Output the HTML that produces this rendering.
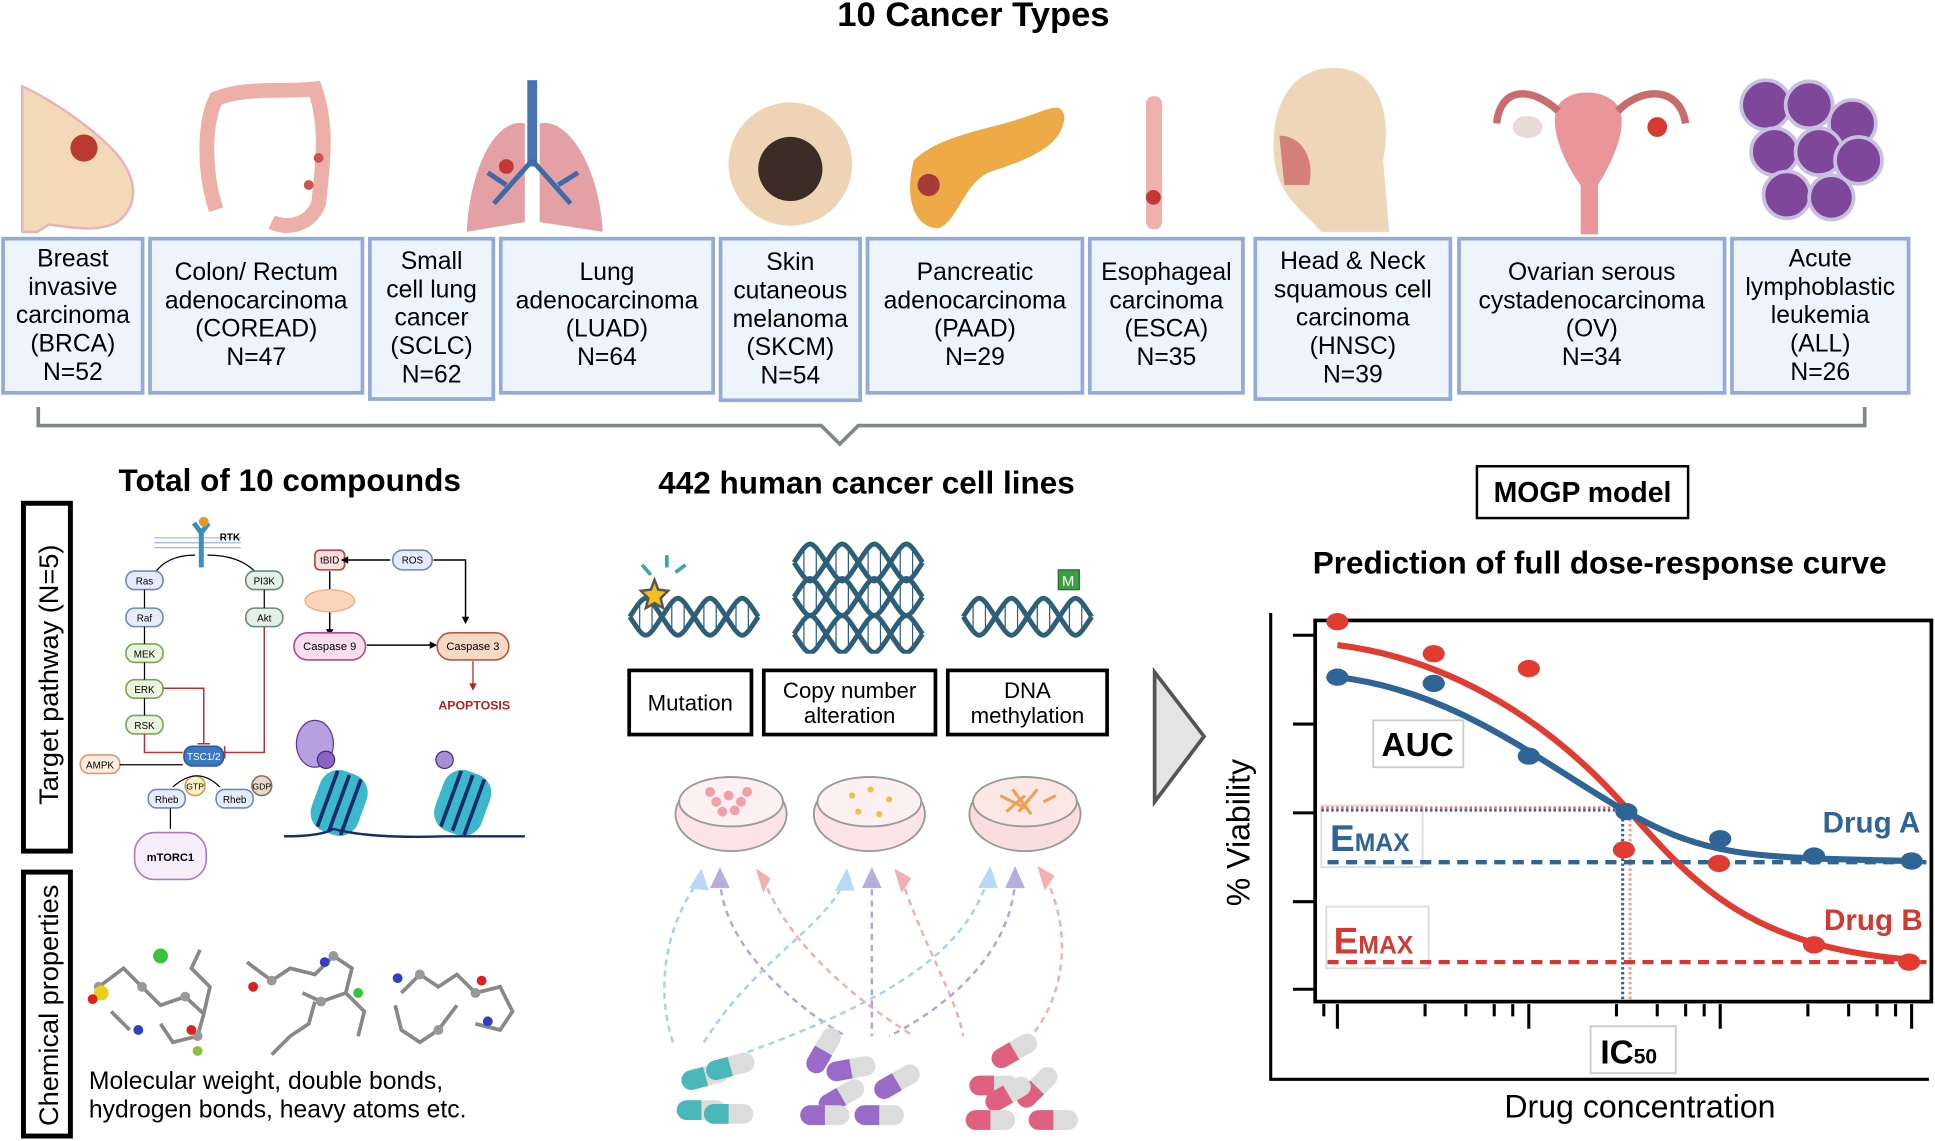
<!DOCTYPE html>
<html><head><meta charset="utf-8">
<style>
html,body{margin:0;padding:0;background:#fff;}
body{width:1935px;height:1141px;overflow:hidden;position:relative;}
#w{position:absolute;left:0;top:0;width:1567px;height:925px;transform-origin:0 0;transform:scale(1.2349,1.2335);font-family:"Liberation Sans",Arial,sans-serif;color:#000;}
.a{position:absolute;}
.bx{position:absolute;top:192px;height:128px;background:#eef4fc;border:3px solid #93abd6;box-sizing:border-box;display:flex;align-items:center;justify-content:center;text-align:center;font-size:20px;line-height:23px;}
.h{position:absolute;font-weight:bold;font-size:25.5px;white-space:nowrap;}
.vb{position:absolute;border:4px solid #000;box-sizing:border-box;}
.vt{position:absolute;transform:rotate(-90deg);transform-origin:center;white-space:nowrap;font-size:22px;}
.lb{position:absolute;border:3px solid #000;box-sizing:border-box;display:flex;align-items:center;justify-content:center;text-align:center;font-size:18px;line-height:20px;}
</style></head><body><div id="w">
<div class="h" style="left:678px;top:-4px;font-size:28px;">10 Cancer Types</div>

<svg class="a" style="left:0;top:0" width="1567" height="925">
<path d="M18,70 C40,80 70,100 90,120 C110,140 115,165 95,180 C80,188 60,185 40,182 L30,188 L18,188 Z" fill="#f3d9b8" stroke="#e7b3b8" stroke-width="2"/>
<circle cx="68" cy="120" r="11" fill="#b83a30"/>
<path d="M175,170 C165,140 165,100 175,80 C200,70 230,75 255,72 C265,100 262,130 258,165 C250,185 230,185 220,180" fill="none" stroke="#ecb0a8" stroke-width="12"/>
<circle cx="258" cy="128" r="4" fill="#c9564a"/><circle cx="250" cy="150" r="4" fill="#c9564a"/>
<path d="M425,100 C400,95 380,140 378,188 L425,180 Z" fill="#e3a0a5"/>
<path d="M437,100 C462,95 486,140 488,188 L437,180 Z" fill="#e3a0a5"/>
<rect x="427" y="65" width="8" height="70" fill="#4a74b0"/>
<path d="M431,130 L400,165 M431,130 L462,165 M410,150 L395,140 M452,150 L468,140" stroke="#3f6aa8" stroke-width="4" fill="none"/>
<circle cx="410" cy="135" r="6" fill="#c23a35"/>
<circle cx="640" cy="133" r="50" fill="#efd3b5"/>
<circle cx="640" cy="137" r="26" fill="#3c2c26"/>
<path d="M740,130 C760,110 800,105 830,95 C850,88 860,82 862,95 C860,120 830,130 800,140 C780,150 775,180 760,185 C740,185 732,160 740,130 Z" fill="#efaa48"/>
<circle cx="752" cy="150" r="9" fill="#a83a3a"/>
<rect x="928" y="78" width="13" height="108" rx="6" fill="#f0b0ad"/>
<circle cx="934" cy="160" r="6" fill="#c03a35"/>
<path d="M1080,55 C1040,55 1028,95 1032,130 C1035,160 1060,175 1070,188 L1125,188 L1120,130 C1128,90 1115,55 1080,55 Z" fill="#eed6b9"/>
<path d="M1036,110 C1055,110 1065,130 1060,150 L1040,150 Z" fill="#d4817a"/>
<path d="M1260,90 C1265,70 1305,70 1312,90 C1318,110 1300,140 1294,150 L1294,190 L1280,190 L1280,150 C1272,140 1255,110 1260,90 Z" fill="#e9959a"/>
<path d="M1262,90 C1240,70 1215,70 1212,100 M1310,90 C1330,70 1360,70 1365,100" stroke="#c96c6e" stroke-width="6" fill="none"/>
<ellipse cx="1237" cy="103" rx="12" ry="9" fill="#e8dcd8"/>
<circle cx="1342" cy="103" r="8" fill="#d83a30"/>
<g fill="#7e4799" stroke="#c8c0e0" stroke-width="3">
<circle cx="1430" cy="85" r="20"/><circle cx="1465" cy="85" r="19"/><circle cx="1500" cy="100" r="19"/>
<circle cx="1437" cy="123" r="19"/><circle cx="1473" cy="123" r="19"/><circle cx="1505" cy="130" r="19"/>
<circle cx="1447" cy="158" r="19"/><circle cx="1483" cy="160" r="18"/>
</g>
<path d="M31,330 L31,345 L665,345 L680,360 L695,345 L1510,345 L1510,330" fill="none" stroke="#7f8888" stroke-width="3"/>
</svg>

<div class="bx" style="left:1px;width:116px;">Breast<br>invasive<br>carcinoma<br>(BRCA)<br>N=52</div>
<div class="bx" style="left:120px;width:175px;">Colon/ Rectum<br>adenocarcinoma<br>(COREAD)<br>N=47</div>
<div class="bx" style="left:298px;width:103px;height:133px;">Small<br>cell lung<br>cancer<br>(SCLC)<br>N=62</div>
<div class="bx" style="left:404px;width:175px;">Lung<br>adenocarcinoma<br>(LUAD)<br>N=64</div>
<div class="bx" style="left:582px;width:116px;height:134px;">Skin<br>cutaneous<br>melanoma<br>(SKCM)<br>N=54</div>
<div class="bx" style="left:701px;width:177px;">Pancreatic<br>adenocarcinoma<br>(PAAD)<br>N=29</div>
<div class="bx" style="left:881px;width:127px;">Esophageal<br>carcinoma<br>(ESCA)<br>N=35</div>
<div class="bx" style="left:1015px;width:161px;height:133px;">Head &amp; Neck<br>squamous cell<br>carcinoma<br>(HNSC)<br>N=39</div>
<div class="bx" style="left:1180px;width:218px;">Ovarian serous<br>cystadenocarcinoma<br>(OV)<br>N=34</div>
<div class="bx" style="left:1401px;width:146px;">Acute<br>lymphoblastic<br>leukemia<br>(ALL)<br>N=26</div>

<div class="h" style="left:96px;top:376px;">Total of 10 compounds</div>
<div class="h" style="left:533px;top:378px;">442 human cancer cell lines</div>

<div class="vb" style="left:17px;top:406px;width:42px;height:286px;"></div>
<div class="vt" style="left:-70px;top:534px;width:220px;text-align:center;">Target pathway (N=5)</div>
<div class="vb" style="left:17px;top:705px;width:42px;height:218px;"></div>
<div class="vt" style="left:-70px;top:802px;width:220px;text-align:center;">Chemical properties</div>

<svg class="a" style="left:60px;top:410px" width="380" height="320" font-family="Liberation Sans,Arial,sans-serif" font-size="8">
<g stroke="#9fb4d8" stroke-width="1"><line x1="65" y1="26" x2="135" y2="26"/><line x1="65" y1="30" x2="135" y2="30"/><line x1="65" y1="34" x2="135" y2="34"/></g>
<path d="M97,14 L103,22 L109,14 M103,22 L103,50" stroke="#3a8fc0" stroke-width="4" fill="none"/>
<circle cx="105" cy="13" r="4" fill="#e09a2a"/>
<text x="118" y="28" font-size="8" font-weight="bold">RTK</text>
<path d="M98,40 Q75,40 65,55 M108,40 Q135,40 148,55" stroke="#000" fill="none"/>
<g stroke-width="1.3">
<rect x="42" y="53" width="30" height="15" rx="7" fill="#e6ecfa" stroke="#6e88c4"/><text x="57" y="64" text-anchor="middle">Ras</text>
<rect x="42" y="83" width="30" height="15" rx="7" fill="#e6ecfa" stroke="#6e88c4"/><text x="57" y="94" text-anchor="middle">Raf</text>
<rect x="42" y="112" width="30" height="15" rx="7" fill="#eaf4de" stroke="#7aa45a"/><text x="57" y="123" text-anchor="middle">MEK</text>
<rect x="42" y="141" width="30" height="15" rx="7" fill="#eaf4de" stroke="#7aa45a"/><text x="57" y="152" text-anchor="middle">ERK</text>
<rect x="42" y="170" width="30" height="15" rx="7" fill="#eaf4de" stroke="#7aa45a"/><text x="57" y="181" text-anchor="middle">RSK</text>
<rect x="139" y="53" width="30" height="15" rx="7" fill="#e4efe8" stroke="#6a8a7a"/><text x="154" y="64" text-anchor="middle">PI3K</text>
<rect x="139" y="83" width="30" height="15" rx="7" fill="#e4efe8" stroke="#6a8a7a"/><text x="154" y="94" text-anchor="middle">Akt</text>
<rect x="89" y="195" width="32" height="16" rx="7" fill="#3a78c0" stroke="#2a5a98"/><text x="105" y="206" text-anchor="middle" fill="#fff">TSC1/2</text>
<rect x="5" y="202" width="32" height="15" rx="7" fill="#fdeee0" stroke="#e09a6a"/><text x="21" y="213" text-anchor="middle">AMPK</text>
<rect x="60" y="230" width="30" height="15" rx="7" fill="#e6ecfa" stroke="#6e88c4"/><text x="75" y="241" text-anchor="middle">Rheb</text>
<rect x="115" y="230" width="30" height="15" rx="7" fill="#e6ecfa" stroke="#6e88c4"/><text x="130" y="241" text-anchor="middle">Rheb</text>
<circle cx="98" cy="227" r="8" fill="#fbf0c8" stroke="#c8a040"/><text x="98" y="230" text-anchor="middle" font-size="7">GTP</text>
<circle cx="152" cy="227" r="8" fill="#e8d8c8" stroke="#8a6a5a"/><text x="152" y="230" text-anchor="middle" font-size="7">GDP</text>
<rect x="49" y="265" width="58" height="38" rx="16" fill="#f6eefa" stroke="#a87ac0"/><text x="78" y="288" text-anchor="middle" font-weight="bold" font-size="9">mTORC1</text>
</g>
<g stroke="#000" fill="none" stroke-width="1"><path d="M57,68 V83 M57,98 V112 M57,127 V141 M57,156 V170 M154,68 V83 M78,245 V262 M37,210 H88"/>
<path d="M80,228 Q100,210 118,228"/></g>
<g stroke="#b83030" fill="none" stroke-width="1.2"><path d="M72,148 H105 V193 M100,193 H110 M57,185 V200 H88 M154,98 V200 H122 M122,195 V205"/></g>
<rect x="195" y="36" width="24" height="16" rx="4" fill="#fbe0e0" stroke="#b84040" stroke-width="1.3"/><text x="207" y="47" text-anchor="middle">tBID</text>
<rect x="258" y="36" width="32" height="16" rx="8" fill="#e6ecfa" stroke="#6e88c4" stroke-width="1.3"/><text x="274" y="47" text-anchor="middle">ROS</text>
<path d="M256,44 H222 M291,44 H317 V92 M207,53 V102 M237,113 H290" stroke="#000" fill="none" stroke-width="1.2"/>
<path d="M222,41 L216,44 L222,47 Z M314,90 L317,96 L320,90 Z M204,100 L207,106 L210,100 Z M288,110 L294,113 L288,116 Z"/>
<ellipse cx="207" cy="77" rx="20" ry="9" fill="#fbd5bb" stroke="#f0a878"/>
<rect x="178" y="103" width="58" height="22" rx="11" fill="#f8dcf0" stroke="#b04a8a" stroke-width="1.3"/><text x="207" y="117" text-anchor="middle" font-size="9">Caspase 9</text>
<rect x="294" y="103" width="58" height="22" rx="11" fill="#f5d8c6" stroke="#b85a3a" stroke-width="1.3"/><text x="323" y="117" text-anchor="middle" font-size="9">Caspase 3</text>
<path d="M323,126 V146" stroke="#b82020"/><path d="M320,144 L323,150 L326,144 Z" fill="#b82020"/>
<text x="324" y="165" text-anchor="middle" fill="#b82020" font-weight="bold" font-size="10">APOPTOSIS</text>
<ellipse cx="195" cy="193" rx="15" ry="19" fill="#b8a0e0" stroke="#5a3a9a"/>
<circle cx="204" cy="206" r="7" fill="#8a64c0" stroke="#4a2a8a"/>
<circle cx="300" cy="206" r="7" fill="#a890d0" stroke="#4a2a8a"/>
<g transform="rotate(20 215 240)"><rect x="195" y="215" width="40" height="52" rx="16" fill="#3cb8cc"/><path d="M205,217 V265 M215,217 V265 M225,217 V265" stroke="#1a2a6a" stroke-width="3"/></g>
<g transform="rotate(20 315 240)"><rect x="295" y="215" width="40" height="52" rx="16" fill="#3cb8cc"/><path d="M305,217 V265 M315,217 V265 M325,217 V265" stroke="#1a2a6a" stroke-width="3"/></g>
<path d="M170,268 Q200,268 210,262 Q240,270 300,268 L365,268" stroke="#1a2a6a" stroke-width="2" fill="none"/>
</svg>

<svg class="a" style="left:60px;top:760px" width="380" height="105">
<g stroke="#888" stroke-width="3" fill="none">
<path d="M20,40 L40,25 L55,40 L70,55 L90,48 L105,62 L100,80 L80,85 L70,70 M105,62 L110,40 L95,25 L102,10 M30,60 L45,75"/>
<path d="M140,20 L160,35 L175,25 L195,30 L210,15 L225,25 L220,45 L200,52 L185,45 M195,52 L190,70 L175,80 L160,95 M220,45 L235,60 L230,80"/>
<path d="M265,45 L280,30 L295,40 L310,30 L325,45 L345,40 L355,60 L345,75 L325,70 M310,55 L295,75 L280,85 L265,75 L260,55"/>
</g>
<g fill="#999"><circle cx="20" cy="40" r="4"/><circle cx="55" cy="40" r="4"/><circle cx="90" cy="48" r="4"/><circle cx="100" cy="80" r="4"/><circle cx="160" cy="35" r="4"/><circle cx="210" cy="15" r="4"/><circle cx="200" cy="52" r="4"/><circle cx="280" cy="30" r="4"/><circle cx="325" cy="45" r="4"/><circle cx="295" cy="75" r="4"/></g>
<circle cx="70" cy="15" r="6" fill="#3ac23a"/><circle cx="22" cy="45" r="6" fill="#e8d020"/><circle cx="15" cy="50" r="4" fill="#e02020"/>
<circle cx="52" cy="75" r="4" fill="#3040c0"/><circle cx="95" cy="75" r="4" fill="#e02020"/><circle cx="100" cy="92" r="4" fill="#8ac040"/>
<circle cx="145" cy="40" r="4" fill="#e02020"/><circle cx="203" cy="20" r="4" fill="#3040c0"/><circle cx="230" cy="45" r="4" fill="#3ac23a"/>
<circle cx="330" cy="35" r="4" fill="#e02020"/><circle cx="335" cy="68" r="4" fill="#3040c0"/><circle cx="262" cy="33" r="4" fill="#3040c0"/>
</svg>
<div class="a" style="left:72px;top:866px;font-size:20px;line-height:23px;">Molecular weight, double bonds,<br>hydrogen bonds, heavy atoms etc.</div>

<svg class="a" style="left:500px;top:430px" width="400" height="100">
<defs><g id="dna"><path d="M0,20 C13,0 13,0 26,20 C39,40 39,40 52,20 C65,0 65,0 78,20 C91,40 91,40 104,20" stroke="#2e5f7a" stroke-width="4" fill="none"/><path d="M0,20 C13,40 13,40 26,20 C39,0 39,0 52,20 C65,40 65,40 78,20 C91,0 91,0 104,20" stroke="#2e5f7a" stroke-width="4" fill="none"/><path d="M8,10 V30 M18,8 V32 M34,8 V32 M44,10 V30 M60,10 V30 M70,8 V32 M86,8 V32 M96,10 V30" stroke="#2e5f7a" stroke-width="1"/></g></defs>
<use href="#dna" x="10" y="50"/>
<path d="M30,40 L33,48 L41,49 L35,55 L37,63 L30,59 L23,63 L25,55 L19,49 L27,48 Z" fill="#f0c020" stroke="#555" stroke-width="2"/>
<path d="M20,28 L27,36 M40,20 V30 M55,28 L47,34" stroke="#3aa8a8" stroke-width="3"/>
<use href="#dna" x="143" y="6"/><use href="#dna" x="143" y="34"/><use href="#dna" x="143" y="64"/>
<use href="#dna" x="280" y="50"/>
<rect x="357" y="32" width="17" height="16" fill="#3aa040" stroke="#226622"/><text x="365" y="45" font-size="12" fill="#fff" text-anchor="middle">M</text>
</svg>
<div class="lb" style="left:508px;top:542px;width:102px;height:55px;">Mutation</div>
<div class="lb" style="left:617px;top:542px;width:142px;height:55px;">Copy number<br>alteration</div>
<div class="lb" style="left:766px;top:542px;width:132px;height:55px;">DNA<br>methylation</div>

<svg class="a" style="left:500px;top:600px" width="420" height="325">
<g stroke="#999" stroke-width="1.5">
<ellipse cx="92" cy="60" rx="45" ry="30" fill="#fbe3e8"/><ellipse cx="92" cy="50" rx="42" ry="20" fill="#fdf0f3"/>
<ellipse cx="204" cy="60" rx="45" ry="30" fill="#fbe3e8"/><ellipse cx="204" cy="50" rx="42" ry="20" fill="#fdf0f3"/>
<ellipse cx="330" cy="60" rx="45" ry="30" fill="#f9dede"/><ellipse cx="330" cy="50" rx="42" ry="20" fill="#fbe8e4"/>
</g>
<g fill="#f0a0a8"><circle cx="80" cy="50" r="4"/><circle cx="90" cy="45" r="4"/><circle cx="100" cy="50" r="4"/><circle cx="85" cy="58" r="4"/><circle cx="95" cy="57" r="4"/><circle cx="105" cy="42" r="4"/><circle cx="75" cy="42" r="4"/></g>
<g fill="#f0c040"><circle cx="190" cy="45" r="2.5"/><circle cx="205" cy="40" r="2.5"/><circle cx="220" cy="48" r="2.5"/><circle cx="195" cy="58" r="2.5"/><circle cx="212" cy="60" r="2.5"/></g>
<g stroke="#f0a050" stroke-width="2.5"><path d="M310,45 L330,55 M320,40 L335,60 M340,40 L325,58 M345,50 L355,45 M315,58 L330,45"/></g>
<g fill="none" stroke-width="2" stroke-dasharray="5,4">
<path d="M45,245 C30,200 40,150 65,115" stroke="#a8d0f0"/>
<path d="M83,112 C85,170 150,220 185,240" stroke="#b0a8d8"/>
<path d="M118,112 C140,170 200,215 240,240" stroke="#f0b0b0"/>
<path d="M70,245 C110,180 170,150 183,115" stroke="#a8d0f0"/>
<path d="M206,112 V240" stroke="#b0a8d8"/>
<path d="M230,112 C245,160 275,210 280,240" stroke="#f0b0b0"/>
<path d="M80,262 C200,220 280,180 300,112" stroke="#a8d0f0"/>
<path d="M322,112 C320,170 270,215 220,240" stroke="#b0a8d8"/>
<path d="M347,112 C370,160 360,210 335,240" stroke="#f0b0b0"/>
</g>
<g><path d="M58,120 L68,104 L74,122 Z" fill="#b8d8f4"/><path d="M75,120 L83,103 L91,120 Z" fill="#b8aedc"/><path d="M112,104 L124,112 L118,124 Z" fill="#f2b0b0"/>
<path d="M176,122 L186,104 L192,122 Z" fill="#b8d8f4"/><path d="M198,120 L206,103 L214,120 Z" fill="#b8aedc"/><path d="M224,104 L238,112 L230,124 Z" fill="#f2b0b0"/>
<path d="M292,120 L302,102 L308,120 Z" fill="#b8d8f4"/><path d="M314,120 L322,102 L330,120 Z" fill="#b8aedc"/><path d="M340,102 L354,110 L346,122 Z" fill="#f2b0b0"/></g>
<defs>
<g id="pt"><rect x="0" y="0" width="40" height="16" rx="8" fill="#dcdcdc"/><path d="M8,0 H20 V16 H8 A8,8 0 0 1 8,0 Z" fill="#4ab8b8"/></g>
<g id="pp"><rect x="0" y="0" width="40" height="16" rx="8" fill="#dcdcdc"/><path d="M8,0 H20 V16 H8 A8,8 0 0 1 8,0 Z" fill="#9a6ac8"/></g>
<g id="pk"><rect x="0" y="0" width="40" height="16" rx="8" fill="#dcdcdc"/><path d="M8,0 H20 V16 H8 A8,8 0 0 1 8,0 Z" fill="#e06080"/></g>
</defs>
<use href="#pt" transform="translate(50,270) rotate(-15)"/><use href="#pt" transform="translate(70,262) rotate(-15)"/>
<use href="#pt" transform="translate(48,292)"/><use href="#pt" transform="translate(70,295)"/>
<use href="#pp" transform="translate(150,265) rotate(-60)"/><use href="#pp" transform="translate(168,262) rotate(-10)"/><use href="#pp" transform="translate(205,280) rotate(-30)"/>
<use href="#pp" transform="translate(160,292) rotate(-30)"/><use href="#pp" transform="translate(148,296)"/><use href="#pp" transform="translate(192,296)"/>
<use href="#pk" transform="translate(300,255) rotate(-30)"/><use href="#pk" transform="translate(285,272)"/><use href="#pk" transform="translate(320,290) rotate(-45)"/>
<use href="#pk" transform="translate(295,290) rotate(-30)"/><use href="#pk" transform="translate(282,300)"/><use href="#pk" transform="translate(333,300)"/>
</svg>

<svg class="a" style="left:925px;top:535px" width="60" height="125"><path d="M10,10 L50,62 L10,115 Z" fill="#e4e4e4" stroke="#555" stroke-width="3"/></svg>

<div class="a" style="left:1195px;top:377px;width:173px;height:44px;border:2px solid #000;box-sizing:border-box;display:flex;align-items:center;justify-content:center;font-weight:bold;font-size:23px;">MOGP model</div>
<div class="h" style="left:1063px;top:443px;">Prediction of full dose-response curve</div>

<svg class="a" style="left:0;top:0" width="1567" height="925" font-family="Liberation Sans,Arial,sans-serif">
<path d="M1029,497 V875 H1562" stroke="#000" stroke-width="2.5" fill="none"/>
<rect x="1065" y="503" width="499" height="309" fill="none" stroke="#000" stroke-width="3"/>
<g stroke="#000" stroke-width="2.5"><path d="M1047,515 H1065 M1047,587 H1065 M1047,659 H1065 M1047,731 H1065 M1047,802 H1065"/>
<path d="M1083,814 V834 M1238,814 V834 M1393,814 V834 M1548,814 V834 M1072,814 V824 M1154,814 V824 M1187,814 V824 M1210,814 V824 M1225,814 V824 M1309,814 V824 M1342,814 V824 M1365,814 V824 M1380,814 V824 M1464,814 V824 M1497,814 V824 M1520,814 V824 M1535,814 V824"/></g>
<rect x="1070" y="653" width="82" height="50" fill="#fff" stroke="#ddd" stroke-width="1.5"/>
<rect x="1074" y="735" width="83" height="50" fill="#fff" stroke="#ddd" stroke-width="1.5"/>
<path d="M1070,655 H1317" stroke="#e07070" stroke-width="2.5" stroke-dasharray="2,2"/>
<path d="M1070,657 H1317" stroke="#2e6496" stroke-width="2" stroke-dasharray="2,2"/>
<path d="M1314,656 V812" stroke="#2e6496" stroke-width="2.5" stroke-dasharray="2,2"/>
<path d="M1320,656 V812" stroke="#f0a090" stroke-width="2.5" stroke-dasharray="2,2"/>
<path d="M1075,699 H1560" stroke="#2e6496" stroke-width="3.5" stroke-dasharray="9,6"/>
<path d="M1075,780 H1560" stroke="#d03a32" stroke-width="3.5" stroke-dasharray="9,6"/>
<path d="M1083,523 C1180,535 1260,590 1317,655 S1420,768 1548,778" stroke="#e03c31" stroke-width="5" fill="none"/>
<path d="M1083,549 C1180,560 1250,620 1317,658 S1420,695 1548,698" stroke="#2e6496" stroke-width="5" fill="none"/>
<g fill="#2e6496"><ellipse cx="1083" cy="549" rx="9" ry="7"/><ellipse cx="1161" cy="554" rx="9" ry="7"/><ellipse cx="1238" cy="613" rx="9" ry="7"/><ellipse cx="1317" cy="658" rx="9" ry="7"/><ellipse cx="1393" cy="680" rx="9" ry="7"/><ellipse cx="1469" cy="694" rx="9" ry="7"/><ellipse cx="1548" cy="698" rx="9" ry="7"/></g>
<g fill="#e03c31"><ellipse cx="1083" cy="504" rx="9" ry="7"/><ellipse cx="1161" cy="530" rx="9" ry="7"/><ellipse cx="1238" cy="542" rx="9" ry="7"/><ellipse cx="1315" cy="689" rx="9" ry="7"/><ellipse cx="1392" cy="700" rx="9" ry="7"/><ellipse cx="1469" cy="766" rx="9" ry="7"/><ellipse cx="1546" cy="780" rx="9" ry="7"/></g>
<rect x="1112" y="584" width="73" height="38" fill="#fff" stroke="#ccc" stroke-width="1.5"/>
<text x="1148" y="613" text-anchor="middle" font-weight="bold" font-size="27">AUC</text>
<text x="1077" y="690" fill="#2e6496" font-weight="bold" font-size="30">E<tspan font-size="20">MAX</tspan></text>
<text x="1080" y="773" fill="#d03a32" font-weight="bold" font-size="30">E<tspan font-size="20">MAX</tspan></text>
<text x="1555" y="675" fill="#2e6496" font-weight="bold" font-size="24" text-anchor="end">Drug A</text>
<text x="1557" y="754" fill="#d03a32" font-weight="bold" font-size="24" text-anchor="end">Drug B</text>
<rect x="1288" y="832" width="69" height="38" fill="#fff" stroke="#ccc" stroke-width="1.5"/>
<text x="1296" y="862" font-weight="bold" font-size="27">IC<tspan font-size="17">50</tspan></text>
<text x="1328" y="906" text-anchor="middle" font-size="26">Drug concentration</text>
<text transform="translate(1012,675) rotate(-90)" text-anchor="middle" font-size="26">% Viability</text>
</svg>
</div></body></html>
